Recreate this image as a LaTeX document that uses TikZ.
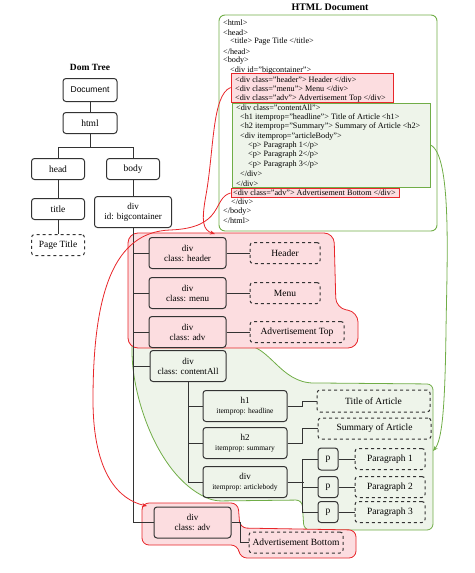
\documentclass[tikz,border=0pt]{standalone}
\usepackage{fontspec}
\setmainfont{Liberation Serif}
\newfontfamily\docsans{Liberation Sans}
\usepackage{xcolor}
\definecolor{mapRed}{HTML}{E8262A}
\definecolor{mapPink}{HTML}{FCDDE0}
\definecolor{mapGreen}{HTML}{70AD47}
\definecolor{mapMint}{HTML}{EEF4EA}
\definecolor{boxGray}{HTML}{333333}
\usetikzlibrary{arrows.meta, positioning, calc}

\begin{document}
\begin{tikzpicture}[
    x=1pt, y=1pt,
    treebox/.style={
        draw=boxGray,
        line width=1pt,
        rounded corners=3pt,
        minimum width=77pt,
        minimum height=31pt,
        inner sep=1pt,
        align=center,
        font=\fontsize{9}{10}\selectfont
    },
    smallbox/.style={
        treebox,
        minimum width=53pt,
        minimum height=21pt,
        font=\fontsize{9.5}{10.5}\selectfont
    },
    leafbox/.style={
        smallbox,
        dashed,
        minimum width=70pt
    },
    codeline/.style={anchor=west, inner sep=0pt, font=\fontsize{8.2}{9}\selectfont},
    link/.style={draw=boxGray, line width=1pt},
    maparrow/.style={-{Stealth[length=5pt,width=4pt]}, mapRed, line width=0.8pt}
]
\useasboundingbox (0,0) rectangle (474,-573);

% Regions
\draw[mapGreen, fill=mapMint, line width=0.8pt, rounded corners=6pt]
    (132,-345) -- (238,-345) .. controls (270,-345) and (280,-383) .. (320,-383)
    -- (433,-384) -- (433,-530) -- (304,-530) -- (302,-500) -- (215,-501)
    .. controls (160,-480) and (132,-400) .. (132,-345) -- cycle;
\draw[mapRed, fill=mapPink, line width=0.8pt, rounded corners=10pt]
    (128,-233) -- (334,-233) -- (336,-308) -- (358,-312) -- (358,-348) -- (128,-348) -- cycle;
\draw[mapRed, fill=mapPink, line width=0.8pt, rounded corners=7pt]
    (142,-503) -- (238,-503) -- (240,-528) -- (356,-530) -- (356,-558) -- (240,-558)
    -- (238,-545) -- (142,-545) -- cycle;

% HTML Document
\node[font=\bfseries\fontsize{10}{12}\selectfont] (htmltitle) at (330,-7) {HTML Document};
\node[draw=mapGreen, line width=0.9pt, rounded corners=6pt, minimum width=218pt, minimum height=216pt] (htmlpanel) at (328,-123) {};
\node[draw=mapRed, fill=mapPink, line width=0.9pt, minimum width=162pt, minimum height=29pt, inner sep=0pt] (hdrcode) at (312,-87.5) {};
\node[draw=mapGreen, fill=mapMint, line width=0.9pt, minimum width=198pt, minimum height=84pt, inner sep=0pt] (contentcode) at (331,-145) {};
\node[draw=mapRed, fill=mapPink, line width=0.9pt, minimum width=168pt, minimum height=9.5pt, inner sep=0pt] (advbcode) at (315,-193) {};
\foreach \ind/\txt [count=\i] in {
    223/{<html>}, 223/{<head>}, 230/{<title> Page Title </title>}, 223/{</head>}, 223/{<body>},
    230/{<div id="bigcontainer">},
    235/{<div class="header"> Header </div>}, 235/{<div class="menu"> Menu </div>},
    235/{<div class="adv"> Advertisement Top </div>},
    236/{<div class="contentAll">},
    240/{<h1 itemprop="headline"> Title of Article <h1>},
    240/{<h2 itemprop="Summary"> Summary of Article <h2>},
    240/{<div itemprop="articleBody">},
    248/{<p> Paragraph 1</p>}, 248/{<p> Paragraph 2</p>}, 248/{<p> Paragraph 3</p>},
    240/{</div>}, 236/{</div>},
    233/{<div class="adv"> Advertisement Bottom </div>},
    231/{</div>}, 223/{</body>}, 223/{</html>}}
    \node[codeline] (code\i) at (\ind,{-23-(\i-1)*9.43}) {\txt};

% Dom Tree
\node[font=\bfseries\fontsize{9.5}{11}\selectfont] (domtitle) at (90,-67) {Dom Tree};
\node[smallbox, font=\docsans\fontsize{8.5}{10}\selectfont, minimum width=54pt, minimum height=23pt] (document) at (90,-90) {Document};
\node[smallbox, minimum width=54pt, below=10pt of document] (html) {html};
\node[smallbox] (head) at (58,-169) {head};
\node[smallbox] (body) at (133,-169) {body};
\node[smallbox, below=18pt of head] (title) {title};
\node[smallbox, dashed, below=14pt of title] (pagetitle) {Page Title};
\node[treebox, below=16pt of body] (bigcont) {div\\id: bigcontainer};

\node[treebox] (divhdr) at (187.5,-253) {div\\class: header};
\node[treebox, below=8pt of divhdr] (divmenu) {div\\class: menu};
\node[treebox, below=7pt of divmenu] (divadv) {div\\class: adv};
\node[leafbox, right=23pt of divhdr] (hdrleaf) {Header};
\node[leafbox, right=23pt of divmenu] (menuleaf) {Menu};
\node[leafbox, minimum width=94pt, right=23pt of divadv] (advtop) {Advertisement Top};

\node[treebox, minimum width=76pt] (divca) at (188,-366) {div\\class: contentAll};
\node[treebox, minimum width=84pt] (h1) at (245,-406) {h1\\{\fontsize{7.5}{8.5}\selectfont itemprop: headline}};
\node[treebox, minimum width=84pt, below=5pt of h1] (h2) {h2\\{\fontsize{7.5}{8.5}\selectfont itemprop: summary}};
\node[treebox, minimum width=84pt, below=7pt of h2] (divab) {div\\{\fontsize{7.5}{8.5}\selectfont itemprop: articlebody}};
\node[leafbox, minimum width=113pt, minimum height=22pt] (toa) at (373.5,-401) {Title of Article};
\node[leafbox, minimum width=113pt] (summ) at (374.5,-428.5) {Summary of Article};
\node[smallbox, minimum width=20pt, minimum height=22pt] (p1) at (328,-459) {p};
\node[smallbox, minimum width=20pt] (p2) at (328,-487) {p};
\node[smallbox, minimum width=20pt] (p3) at (328,-512) {p};
\foreach \i in {1,2,3}
    \node[leafbox, right=16pt of p\i] (par\i) {Paragraph \i};

\node[treebox] (divadvb) at (192.5,-522.5) {div\\class: adv};
\node[leafbox, minimum width=94pt] (advb) at (296,-542.5) {Advertisement Bottom};

% Tree links
\draw[link] (document) -- (html);
\draw[link] (html.south) -- ++(0,-13) -| (head.north);
\draw[link] (html.south) ++(0,-13) -| (body.north);
\draw[link] (head) -- (title);
\draw[link] (title) -- (pagetitle);
\draw[link] (body) -- (bigcont);
\draw[link] (bigcont.south) |- (divadvb.west);
\foreach \n in {divhdr, divmenu, divadv, divca}
    \draw[link] (bigcont.south |- \n.west) -- (\n.west);
\draw[link] (divhdr) -- (hdrleaf);
\draw[link] (divmenu) -- (menuleaf);
\draw[link] (divadv) -- (advtop);
\draw[link] (divca.south) |- (divab.west);
\foreach \n in {h1, h2}
    \draw[link] (divca.south |- \n.west) -- (\n.west);
\draw[link] (h1.east) -- ++(15,0) |- (toa.west);
\draw[link] (h2.east) -- ++(15,0) |- (summ.west);
\draw[link] (divab.east) -- ++(16,0);
\draw[link] (p1.west) -- ++(-15,0) |- (p3.west);
\draw[link] (p2.west) -- ++(-15,0);
\foreach \i in {1,2,3}
    \draw[link] (p\i) -- (par\i);
\draw[link] (divadvb.east) -- ++(9,0) |- (advb.west);

% Mapping arrows
\coordinate (hdrtip) at (215,-234);
\coordinate (advbtip) at (147,-506);
\coordinate (catip) at (433,-451);
\draw[maparrow] (hdrcode.west) .. controls (212,-95) and (214,-150) .. (206,-195)
    .. controls (201,-222) and (203,-230) .. (hdrtip);
\draw[maparrow] (advbcode.west) .. controls (212,-198) and (225,-228) .. (170,-230)
    .. controls (115,-232) and (93,-290) .. (93,-400)
    .. controls (93,-475) and (120,-500) .. (advbtip);
\draw[maparrow, mapGreen] (contentcode.east) .. controls (452,-155) and (447,-260) .. (446,-330)
    .. controls (445,-410) and (442,-440) .. (catip);
\end{tikzpicture}
\end{document}
